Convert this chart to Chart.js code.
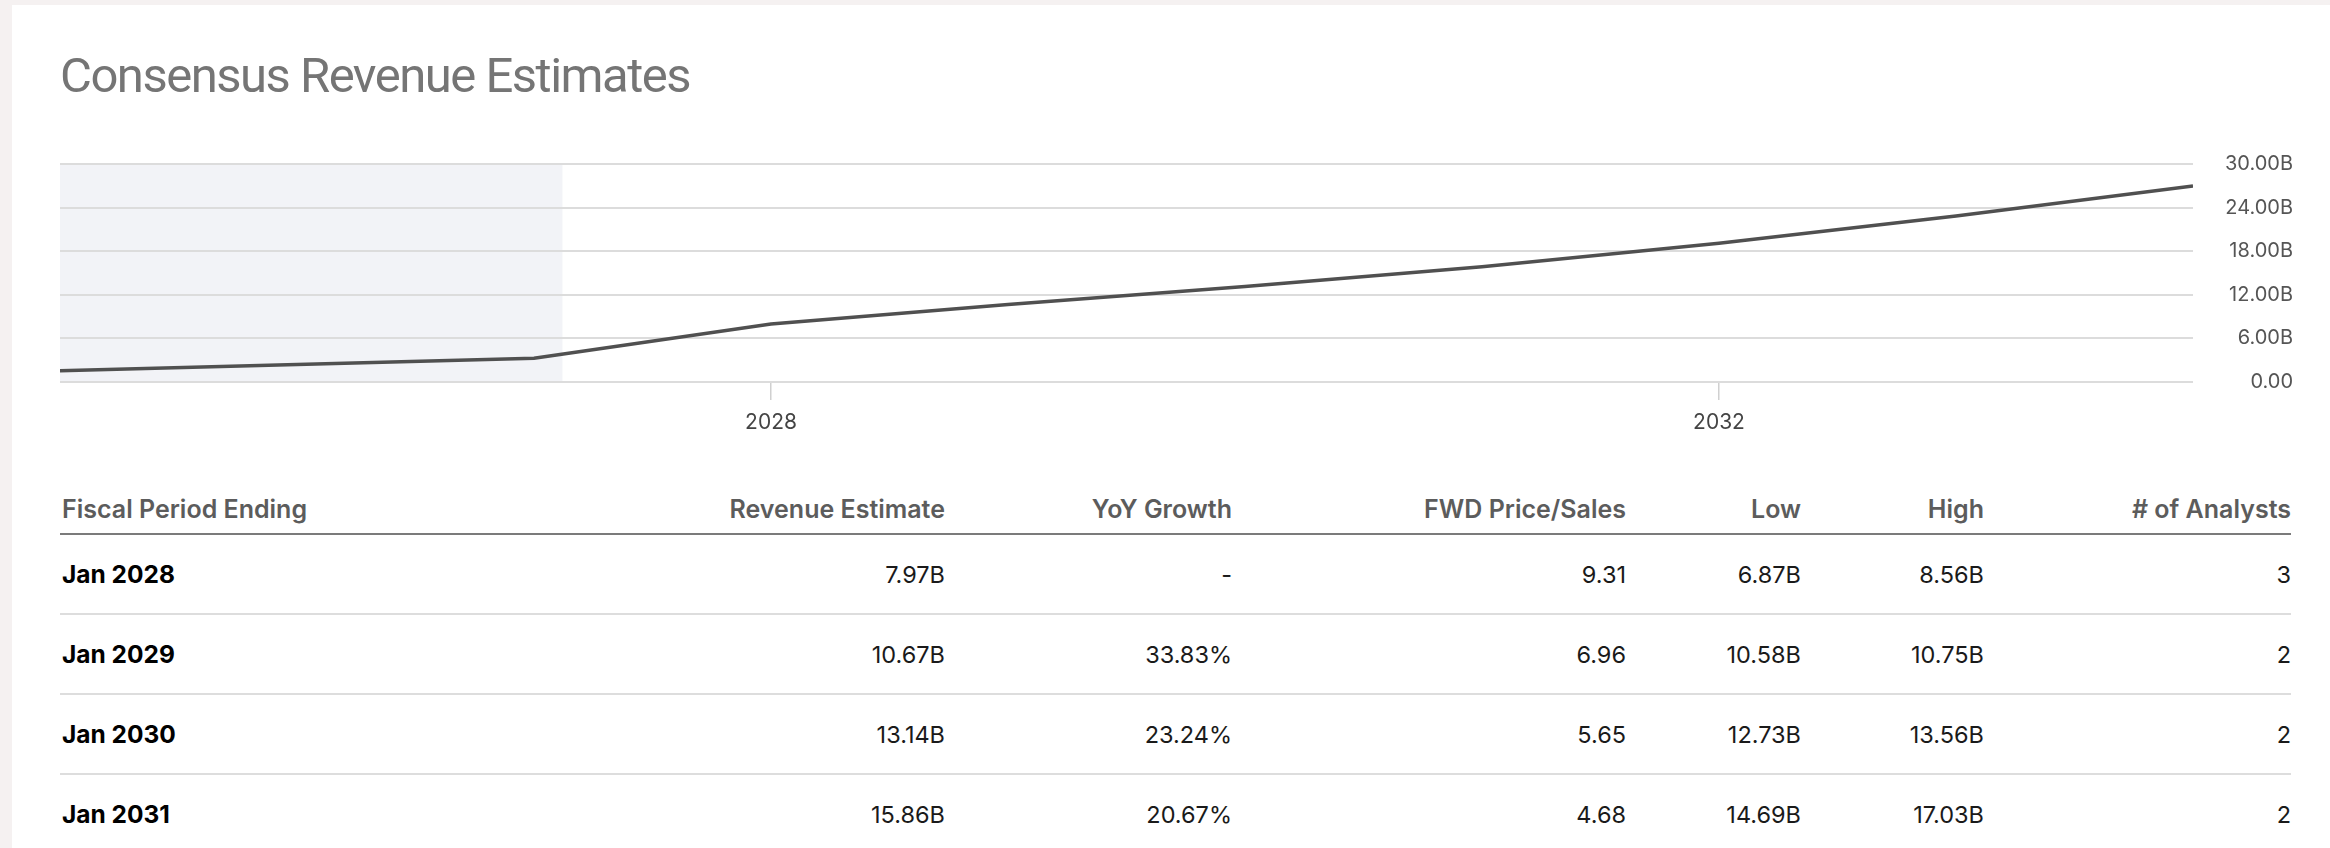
<!DOCTYPE html>
<html>
<head>
<meta charset="utf-8">
<script src="https://cdn.jsdelivr.net/npm/chart.js@4.4.1/dist/chart.umd.min.js"></script>
<style>
  html, body { margin: 0; padding: 0; }
  body { width: 2330px; height: 848px; background: #f5f1f1; overflow: hidden; font-family: Inter, "Noto Sans", sans-serif; }
  .card { position: absolute; left: 12px; top: 5px; right: 0; bottom: 0; background: #fff; }
  .title { position: absolute; left: 60px; top: 46px; margin: 0; font-family: Roboto, sans-serif; font-size: 49px; font-weight: 400; color: #757575; line-height: 60px; letter-spacing: -1.5px; }
  .chart-wrap { position: absolute; left: 60px; top: 150px; width: 2233px; height: 285px; }
  .tbl { position: absolute; left: 60px; top: 484px; width: 2231px; }
  .row { display: grid; grid-template-columns: 640px 245px 287px 394px 175px 183px 307px; align-items: center; box-sizing: border-box; }
  .row.head { height: 51px; border-bottom: 2px solid #7b7b7b; color: #5c5c5c; font-weight: 600; font-size: 25px; }
  .row.body { height: 80px; border-bottom: 2px solid #dddddd; color: #1a1a1a; font-size: 23.5px; }
  .row > div { text-align: right; white-space: nowrap; }
  .row > div:first-child { text-align: left; padding-left: 2px; }
  .row.body > div:first-child { font-weight: 700; color: #000; font-size: 24.5px; }
</style>
</head>
<body>
<div class="card">
</div>
<h1 class="title">Consensus Revenue Estimates</h1>
<div class="chart-wrap"><canvas id="revChart"></canvas></div>
<div class="tbl" id="estTable"></div>

<script>
// fiscal years (Jan year-end) and revenue in billions
const years = [2025, 2027, 2028, 2029, 2030, 2031, 2032, 2033, 2034];
const revenue = [1.55, 3.26, 7.97, 10.67, 13.14, 15.86, 19.09, 22.84, 26.97];
const actualsUntil = 2027.12; // shaded "reported" zone ends here

const xTickValues = [2028, 2032];
const xTickLabels = ["2028", "2032"];
const yTickLabels = ["0.00", "6.00B", "12.00B", "18.00B", "24.00B", "30.00B"];

const tableHeaders = ["Fiscal Period Ending", "Revenue Estimate", "YoY Growth", "FWD Price/Sales", "Low", "High", "# of Analysts"];
const periods = ["Jan 2028", "Jan 2029", "Jan 2030", "Jan 2031"];
const revEstimates = ["7.97B", "10.67B", "13.14B", "15.86B"];
const yoyGrowth = ["-", "33.83%", "23.24%", "20.67%"];
const fwdPriceSales = ["9.31", "6.96", "5.65", "4.68"];
const lowEst = ["6.87B", "10.58B", "12.73B", "14.69B"];
const highEst = ["8.56B", "10.75B", "13.56B", "17.03B"];
const analysts = ["3", "2", "2", "2"];

function buildTable() {
  const el = document.getElementById("estTable");
  let html = '<div class="row head">' + tableHeaders.map(h => `<div>${h}</div>`).join("") + "</div>";
  periods.forEach((p, i) => {
    html += `<div class="row body">
      <div>${p}</div><div>${revEstimates[i]}</div><div>${yoyGrowth[i]}</div>
      <div>${fwdPriceSales[i]}</div><div>${lowEst[i]}</div><div>${highEst[i]}</div><div>${analysts[i]}</div>
    </div>`;
  });
  el.innerHTML = html;
}

// grey band behind the reported years, drawn before the grid
const shadePlugin = {
  id: "shade",
  beforeDraw(chart) {
    const { ctx, chartArea, scales } = chart;
    const xEnd = scales.x.getPixelForValue(actualsUntil);
    ctx.save();
    ctx.fillStyle = "#f2f3f7";
    ctx.fillRect(chartArea.left, chartArea.top, xEnd - chartArea.left, chartArea.bottom - chartArea.top);
    ctx.restore();
  }
};

function drawChart() {
  new Chart(document.getElementById("revChart"), {
    type: "line",
    data: {
      datasets: [{
        data: years.map((y, i) => ({ x: y, y: revenue[i] })),
        borderColor: "#505050",
        borderWidth: 3.5,
        pointRadius: 0,
        tension: 0,
        fill: false,
      }]
    },
    plugins: [shadePlugin],
    options: {
      responsive: true,
      maintainAspectRatio: false,
      animation: false,
      layout: { padding: { top: 14, left: 0, right: 0, bottom: 0 } },
      plugins: { legend: { display: false }, tooltip: { enabled: false } },
      scales: {
        x: {
          type: "linear",
          min: years[0],
          max: years[years.length - 1],
          afterBuildTicks: s => { s.ticks = xTickValues.map(v => ({ value: v })); },
          afterFit: s => { s.height = 53; },
          ticks: {
            callback: v => xTickLabels[xTickValues.indexOf(v)],
            color: "#444",
            font: { family: "Inter", size: 21 },
            padding: 10,
            maxRotation: 0,
          },
          grid: { drawOnChartArea: false, color: "#d0d0d0", lineWidth: 1.5, tickLength: 18 },
          border: { display: false },
        },
        y: {
          position: "right",
          min: 0,
          max: 30,
          // fixed width; tick padding would otherwise also pad top/bottom
          afterFit: s => { s.width = 100; s.paddingTop = 12; s.paddingBottom = 12; },
          ticks: {
            stepSize: 6,
            callback: (v, i) => yTickLabels[i],
            color: "#555",
            font: { family: "Inter", size: 20 },
            padding: 25,
            crossAlign: "far",
          },
          grid: { color: "#dcdcdc", lineWidth: 2, drawTicks: false },
          border: { display: false },
        }
      }
    }
  });
}

window.addEventListener("DOMContentLoaded", () => {
  buildTable();
  drawChart();
});
</script>
</body>
</html>
